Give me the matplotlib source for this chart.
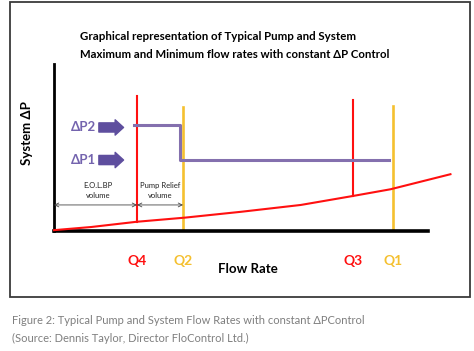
import numpy as np
import matplotlib
matplotlib.use('Agg')
from matplotlib import pyplot as plt
from matplotlib.patches import Rectangle

plt.rcParams['font.family'] = ['Lato', 'DejaVu Sans']

# system curve (flow rate, system dP), axes units 0-100
curve_flow = [0, 10, 22, 35, 50, 66, 80, 90, 106]
curve_dp = [0.5, 2.4, 5.5, 8, 11.5, 15.6, 21, 25, 34]

# constant dP control line: dP2 then step down to dP1
dp2 = 63.5
dp1 = 42.5
step_flow = [21.4, 33.7, 89.6]

# flow markers
q_labels = ['Q4', 'Q2', 'Q3', 'Q1']
q_flow = [22.2, 34.5, 80.0, 90.6]
q_top = [80.8, 74.3, 78.4, 74.9]
q_on_curve = [True, False, True, False]

red = '#FF1010'
gold = '#F5C02F'
purple = '#8470AE'
arrow_col = '#5E4E9E'

fig = plt.figure(figsize=(4.74, 3.51), dpi=100)
W, H = 474.0, 351.0

# outer frame
fig.patches.append(Rectangle((10 / W, 1 - 297 / H), 460 / W, 295 / H,
                             transform=fig.transFigure, fill=False,
                             edgecolor='#3a3a3a', linewidth=1.3))

ax = fig.add_axes([54 / W, 1 - 231 / H, 374 / W, 167 / H])
ax.set_xlim(0, 100)
ax.set_ylim(0, 100)
for s in ['top', 'right']:
    ax.spines[s].set_visible(False)
ax.spines['left'].set_linewidth(2)
ax.spines['bottom'].set_linewidth(2.6)
ax.set_xticks([])
ax.set_yticks([])

# system curve
ax.plot(curve_flow, curve_dp, color=red, lw=1.5, clip_on=False, zorder=3)

# vertical flow lines
for lab, x, top, oc in zip(q_labels, q_flow, q_top, q_on_curve):
    col = red if lab in ('Q4', 'Q3') else gold
    bottom = np.interp(x, curve_flow, curve_dp) if oc else 0
    ax.plot([x, x], [bottom, top], color=col, lw=1.5 if oc else 1.9, zorder=2)
    ax.text(x, -0.18, lab, transform=ax.get_xaxis_transform(), color=col,
            ha='center', va='center', fontsize=10, fontweight='bold')

# dP control line
ax.plot([step_flow[0], step_flow[1], step_flow[1], step_flow[2]],
        [dp2, dp2, dp1, dp1], color=purple, lw=2.2, zorder=2.5)

# dP labels with block arrows
for lab, y in [('ΔP2', dp2 - 1.5), ('ΔP1', dp1)]:
    ax.text(8.0, y, lab, color='#7464AE', ha='center', va='center',
            fontsize=9.5, fontweight='bold')
    ax.annotate('', xy=(18.6, y), xytext=(12.0, y),
                arrowprops=dict(arrowstyle='simple,head_length=0.55,head_width=1.0,tail_width=0.6',
                                color=arrow_col, shrinkA=0, shrinkB=0, mutation_scale=11))

# volume spans
arrow_y = 15.6
ax.annotate('', xy=(0, arrow_y), xytext=(q_flow[0], arrow_y),
            arrowprops=dict(arrowstyle='<->', color='#444444', lw=0.6,
                            shrinkA=0, shrinkB=0, mutation_scale=7))
ax.annotate('', xy=(q_flow[0], arrow_y), xytext=(q_flow[1], arrow_y),
            arrowprops=dict(arrowstyle='<->', color='#444444', lw=0.6,
                            shrinkA=0, shrinkB=0, mutation_scale=7))
ax.text(11.8, 24.5, 'E.O.L.BP\nvolume', ha='center', va='center',
        fontsize=5.5, linespacing=1.5, color='#222222')
ax.text(28.4, 24.5, 'Pump Relief\nvolume', ha='center', va='center',
        fontsize=5.5, linespacing=1.5, color='#222222')

ax.text(51.9, -0.2275, 'Flow Rate', transform=ax.get_xaxis_transform(),
        ha='center', va='center', fontsize=9.5, fontweight='bold')

# title and labels
fig.text(80 / W, 1 - 37 / H, 'Graphical representation of Typical Pump and System',
         ha='left', va='center', fontsize=8.3, fontweight='bold')
fig.text(80 / W, 1 - 55 / H, 'Maximum and Minimum flow rates with constant ΔP Control',
         ha='left', va='center', fontsize=8.2, fontweight='bold')
fig.text(27 / W, 1 - 133 / H, 'System ΔP', rotation=90, ha='center', va='center',
         fontsize=9.5, fontweight='bold')

# caption
fig.text(12 / W, 1 - 321 / H, 'Figure 2: Typical Pump and System Flow Rates with constant ΔPControl',
         ha='left', va='center', fontsize=8.0, color='#7f7f7f')
fig.text(12 / W, 1 - 338 / H, '(Source: Dennis Taylor, Director FloControl Ltd.)',
         ha='left', va='center', fontsize=8.0, color='#7f7f7f')

fig.savefig('out.png', dpi=100)
